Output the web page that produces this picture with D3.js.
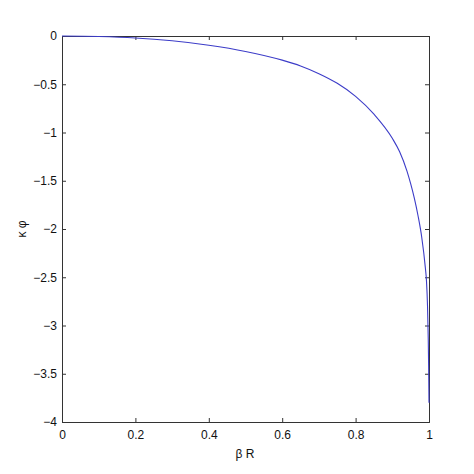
<!DOCTYPE html>
<html>
<head>
<meta charset="utf-8">
<script src="https://cdn.jsdelivr.net/npm/d3@7"></script>
<style>
  body { margin: 0; background: #fff; }
  svg text { font-family: "Liberation Sans", Arial, sans-serif; fill: #111; }
</style>
</head>
<body>
<script>
// curve values (beta R vs kappa phi)
const betaR = [0, 0.1, 0.2, 0.3, 0.4, 0.5, 0.6, 0.65, 0.7, 0.75, 0.8, 0.85, 0.9, 0.92, 0.94, 0.95, 0.96, 0.97, 0.98, 0.99, 0.993, 0.996, 0.998, 0.999, 1.0];
const kappaPhi = [0, -0.005, -0.02, -0.05, -0.096, -0.16, -0.25, -0.31, -0.39, -0.49, -0.625, -0.81, -1.06, -1.2, -1.4, -1.53, -1.68, -1.86, -2.08, -2.4, -2.53, -2.8, -3.15, -3.42, -3.8];
const xTicks = [0, 0.2, 0.4, 0.6, 0.8, 1];
const yTicks = [0, -0.5, -1, -1.5, -2, -2.5, -3, -3.5, -4];

const W = 474, H = 474;
const mLeft = 62, mRight = 429, mTop = 36, mBottom = 422;

const x = d3.scaleLinear().domain([0, 1]).range([mLeft, mRight]);
const y = d3.scaleLinear().domain([-4, 0]).range([mBottom, mTop]);

const svg = d3.select('body').append('svg')
  .attr('width', W).attr('height', H);

const fmt = d => d3.format('')(d).replace('-', '\u2212');

// axes with inward ticks on all four sides
svg.append('g')
  .attr('transform', 'translate(0,' + mBottom + ')')
  .call(d3.axisBottom(x).tickValues(xTicks).tickSize(-4).tickPadding(8).tickFormat(fmt))
  .call(g => g.selectAll('text').attr('font-size', 12));
svg.append('g')
  .attr('transform', 'translate(0,' + mTop + ')')
  .call(d3.axisTop(x).tickValues(xTicks).tickSize(-4).tickFormat(''));
svg.append('g')
  .attr('transform', 'translate(' + mLeft + ',0)')
  .call(d3.axisLeft(y).tickValues(yTicks).tickSize(-4).tickPadding(5).tickFormat(fmt))
  .call(g => g.selectAll('text').attr('font-size', 12));
svg.append('g')
  .attr('transform', 'translate(' + mRight + ',0)')
  .call(d3.axisRight(y).tickValues(yTicks).tickSize(-4).tickFormat(''));

svg.selectAll('.domain').attr('stroke', '#333');
svg.selectAll('.tick line').attr('stroke', '#333');

const pts = betaR.map((b, i) => [b, kappaPhi[i]]);
svg.append('path')
  .datum(pts)
  .attr('fill', 'none')
  .attr('stroke', '#3c3cc8')
  .attr('stroke-width', 1.1)
  .attr('d', d3.line().x(d => x(d[0])).y(d => y(d[1])).curve(d3.curveMonotoneX));

svg.append('text')
  .attr('x', 245).attr('y', 458)
  .attr('text-anchor', 'middle')
  .attr('font-size', 12)
  .text('\u03b2 R');

svg.append('text')
  .attr('transform', 'translate(26,229) rotate(-90)')
  .attr('text-anchor', 'middle')
  .attr('font-size', 12)
  .text('\u03ba \u03c6');
</script>
</body>
</html>
